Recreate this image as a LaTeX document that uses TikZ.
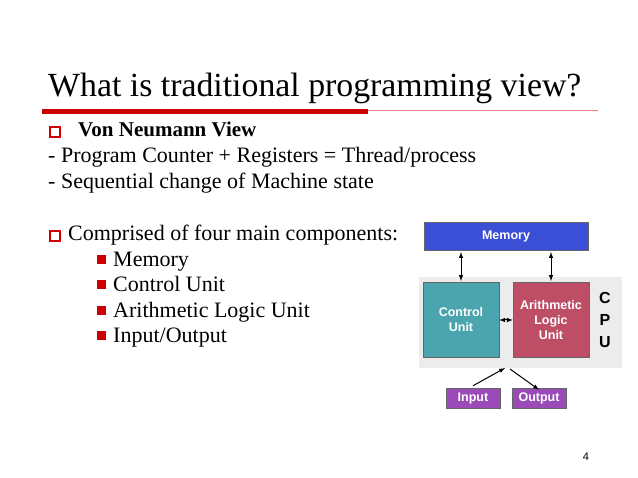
\documentclass[tikz,border=0pt]{standalone}
\usepackage{fontspec}
\setmainfont{Liberation Serif}
\newfontfamily\arial{Liberation Sans}
\definecolor{memc}{HTML}{3B4FD6}
\definecolor{cuc}{HTML}{4AA5AE}
\definecolor{aluc}{HTML}{BE4D66}
\definecolor{ioc}{HTML}{9A4BB8}
\begin{document}
\begin{tikzpicture}[x=1pt,y=-1pt,
  txt/.style={anchor=base west,inner sep=0pt,font=\fontsize{22}{22}\selectfont},
  cb/.style={draw=red!80!black,line width=1.2pt},
  sq/.style={fill=red!80!black},
  blk/.style={draw=black!60,line width=0.5pt,font=\arial\bfseries\fontsize{12.5}{15}\selectfont,text=white,align=center,inner sep=0pt},
  arr/.style={<->,>={latex[scale=1.3]},line width=1pt},
  one/.style={->,>={latex[scale=1.3]},line width=1pt}]
\useasboundingbox (0,0) rectangle (638,478);
\node[txt,font=\fontsize{33.8}{33.8}\selectfont] (title) at (48,97) {What is traditional programming view?};
\fill[red!80!black] (42,109) rectangle (368,114);
\draw[red!50,line width=1pt] (368,111) -- (598,111);
\draw[cb] (50,127) rectangle (60,137);
\node[txt,font=\bfseries\fontsize{21}{21}\selectfont] (t1) at (78,137) {Von Neumann View};
\node[txt] (t2) at (48,163) {- Program Counter + Registers = Thread/process};
\node[txt] (t3) at (48,189) {- Sequential change of Machine state};
\draw[cb] (50,231) rectangle (60,241);
\node[txt] (t4) at (68,241) {Comprised of four main components:};
\foreach \y/\t/\n in {267/Memory/a,292/Control Unit/b,318/Arithmetic Logic Unit/c,343/Input\slash Output/d}{
  \fill[sq] (97,\y-12) rectangle (106,\y-3);
  \node[txt] (\n) at (113,\y) {\t};
}
% diagram
\fill[gray!15] (419,277) rectangle (622,368);
\node[blk,fill=memc,minimum width=164,minimum height=28] (mem) at (506,236) {Memory};
\node[blk,fill=cuc,minimum width=76,minimum height=75] (cu) at (461,320) {Control\\Unit};
\node[blk,fill=aluc,minimum width=76,minimum height=75] (alu) at (551,320) {Arithmetic\\Logic\\Unit};
\node[font=\arial\bfseries\fontsize{16}{22}\selectfont,align=center,inner sep=0pt] (cpu) at (605,320) {C\\P\\U};
\node[blk,fill=ioc,minimum width=54,minimum height=20] (in) at (473,398) {Input};
\node[blk,fill=ioc,minimum width=54,minimum height=20] (out) at (539,398) {Output};
\draw[arr] (461,252) -- (461,281);
\draw[arr] (551,252) -- (551,281);
\draw[arr] (cu.east) -- (alu.west);
\coordinate (j) at (505,368);
\draw[one] (in.north) ++(0,-2) -- (j);
\draw[one] (510,369) -- ([yshift=-2pt]out.north);
\node[font=\arial\fontsize{11}{11}\selectfont] (pg) at (586,457) {4};
\end{tikzpicture}
\end{document}
